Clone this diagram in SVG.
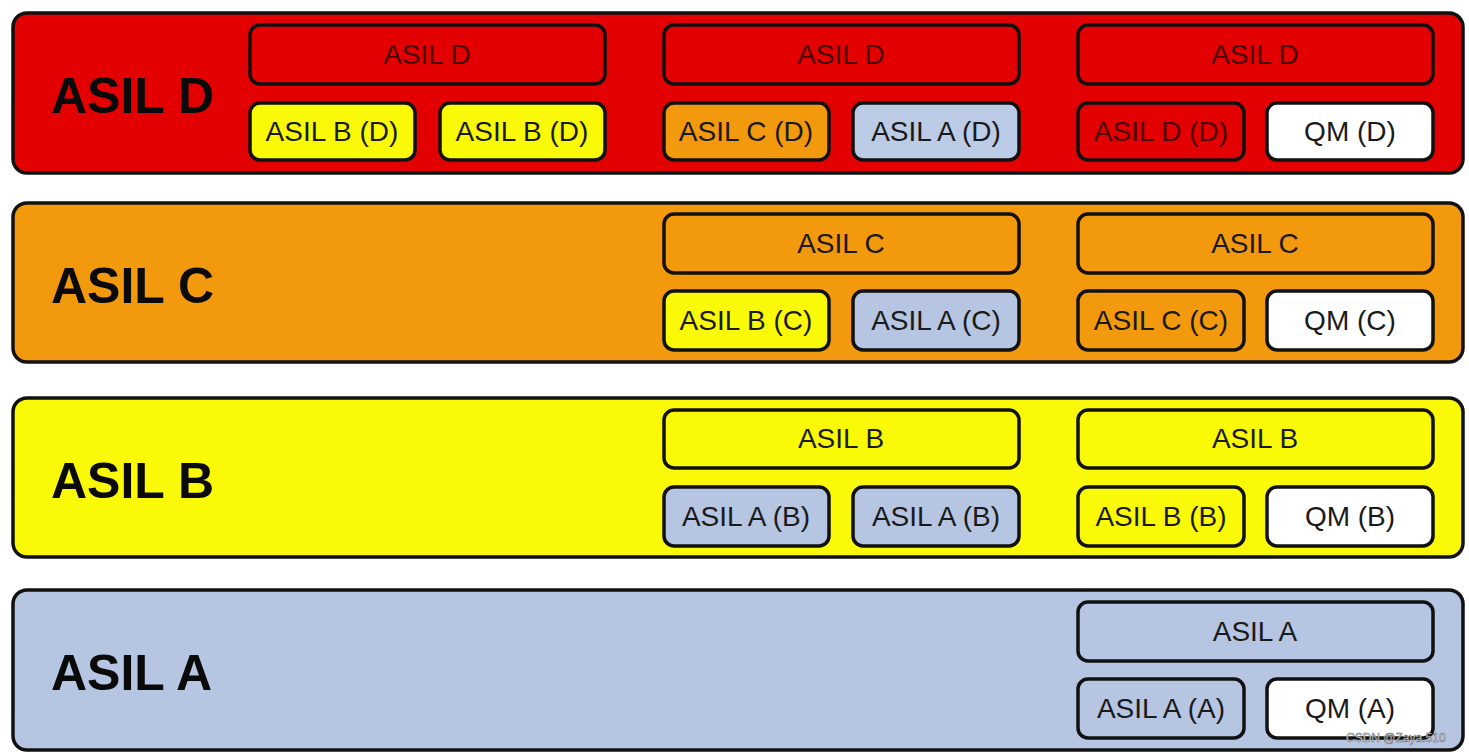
<svg xmlns="http://www.w3.org/2000/svg" width="1469" height="756" viewBox="0 0 1469 756">
<style>
.row{stroke:#111;stroke-width:3.5;}
.box{stroke:#111;stroke-width:3.5;}
.big{font-family:"Liberation Sans",Arial,sans-serif;font-weight:bold;font-size:50px;fill:#0a0a0a;}
.t{font-family:"Liberation Sans",Arial,sans-serif;font-size:28px;fill:#1a1a1a;text-anchor:middle;}
.td{fill:#4a0000;}
.red{fill:#e20000;}
.org{fill:#f2990e;}
.yel{fill:#fafa08;}
.blu{fill:#b5c5e2;}
.blu2{fill:#bccbe6;}
.wht{fill:#ffffff;}
.wm{font-family:"Liberation Sans",Arial,sans-serif;font-size:12px;fill:#f4f4f4;stroke:#666;stroke-width:0.5;}
</style>
<rect width="1469" height="756" fill="#ffffff"/>

<g id="rowD">
<rect class="row red" x="13" y="13" width="1450" height="160" rx="14"/>
<text class="big" x="51" y="113">ASIL D</text>
</g>
<g id="rowD-n1"><rect class="box red" x="250" y="25" width="355" height="59" rx="10"/><text class="t td" x="427" y="64">ASIL D</text></g>
<g id="rowD-n2"><rect class="box red" x="664" y="25" width="355" height="59" rx="10"/><text class="t td" x="841" y="64">ASIL D</text></g>
<g id="rowD-n3"><rect class="box red" x="1078" y="25" width="355" height="59" rx="10"/><text class="t td" x="1255" y="64">ASIL D</text></g>
<g id="rowD-n4"><rect class="box yel" x="250" y="103" width="165" height="57" rx="10"/><text class="t" x="332" y="141">ASIL B (D)</text></g>
<g id="rowD-n5"><rect class="box yel" x="440" y="103" width="165" height="57" rx="10"/><text class="t" x="522" y="141">ASIL B (D)</text></g>
<g id="rowD-n6"><rect class="box org" x="664" y="103" width="165" height="57" rx="10"/><text class="t" x="746" y="141">ASIL C (D)</text></g>
<g id="rowD-n7"><rect class="box blu2" x="853" y="103" width="166" height="57" rx="10"/><text class="t" x="936" y="141">ASIL A (D)</text></g>
<g id="rowD-n8"><rect class="box red" x="1078" y="103" width="166" height="57" rx="10"/><text class="t td" x="1161" y="141">ASIL D (D)</text></g>
<g id="rowD-n9"><rect class="box wht" x="1267" y="103" width="166" height="57" rx="10"/><text class="t" x="1350" y="141">QM (D)</text></g>

<g id="rowC">
<rect class="row org" x="13" y="203" width="1450" height="159" rx="14"/>
<text class="big" x="51" y="303">ASIL C</text>
</g>
<g id="rowC-n1"><rect class="box org" x="664" y="214" width="355" height="59" rx="10"/><text class="t" x="841" y="253">ASIL C</text></g>
<g id="rowC-n2"><rect class="box org" x="1078" y="214" width="355" height="59" rx="10"/><text class="t" x="1255" y="253">ASIL C</text></g>
<g id="rowC-n3"><rect class="box yel" x="664" y="291" width="165" height="59" rx="10"/><text class="t" x="746" y="330">ASIL B (C)</text></g>
<g id="rowC-n4"><rect class="box blu" x="853" y="291" width="166" height="59" rx="10"/><text class="t" x="936" y="330">ASIL A (C)</text></g>
<g id="rowC-n5"><rect class="box org" x="1078" y="291" width="166" height="59" rx="10"/><text class="t" x="1161" y="330">ASIL C (C)</text></g>
<g id="rowC-n6"><rect class="box wht" x="1267" y="291" width="166" height="59" rx="10"/><text class="t" x="1350" y="330">QM (C)</text></g>

<g id="rowB">
<rect class="row yel" x="13" y="398" width="1450" height="159" rx="14"/>
<text class="big" x="51" y="498">ASIL B</text>
</g>
<g id="rowB-n1"><rect class="box yel" x="664" y="410" width="355" height="58" rx="10"/><text class="t" x="841" y="448">ASIL B</text></g>
<g id="rowB-n2"><rect class="box yel" x="1078" y="410" width="355" height="58" rx="10"/><text class="t" x="1255" y="448">ASIL B</text></g>
<g id="rowB-n3"><rect class="box blu" x="664" y="487" width="165" height="59" rx="10"/><text class="t" x="746" y="526">ASIL A (B)</text></g>
<g id="rowB-n4"><rect class="box blu" x="853" y="487" width="166" height="59" rx="10"/><text class="t" x="936" y="526">ASIL A (B)</text></g>
<g id="rowB-n5"><rect class="box yel" x="1078" y="487" width="166" height="59" rx="10"/><text class="t" x="1161" y="526">ASIL B (B)</text></g>
<g id="rowB-n6"><rect class="box wht" x="1267" y="487" width="166" height="59" rx="10"/><text class="t" x="1350" y="526">QM (B)</text></g>

<g id="rowA">
<rect class="row blu" x="13" y="590" width="1450" height="160" rx="14"/>
<text class="big" x="51" y="690">ASIL A</text>
</g>
<g id="rowA-n1"><rect class="box blu" x="1078" y="602" width="355" height="59" rx="10"/><text class="t" x="1255" y="641">ASIL A</text></g>
<g id="rowA-n2"><rect class="box blu" x="1078" y="679" width="166" height="59" rx="10"/><text class="t" x="1161" y="718">ASIL A (A)</text></g>
<g id="rowA-n3"><rect class="box wht" x="1267" y="679" width="166" height="59" rx="10"/><text class="t" x="1350" y="718">QM (A)</text></g>

<g id="connectors"></g>
<text class="wm" x="1346" y="742">CSDN @Zaya.510</text>
</svg>
